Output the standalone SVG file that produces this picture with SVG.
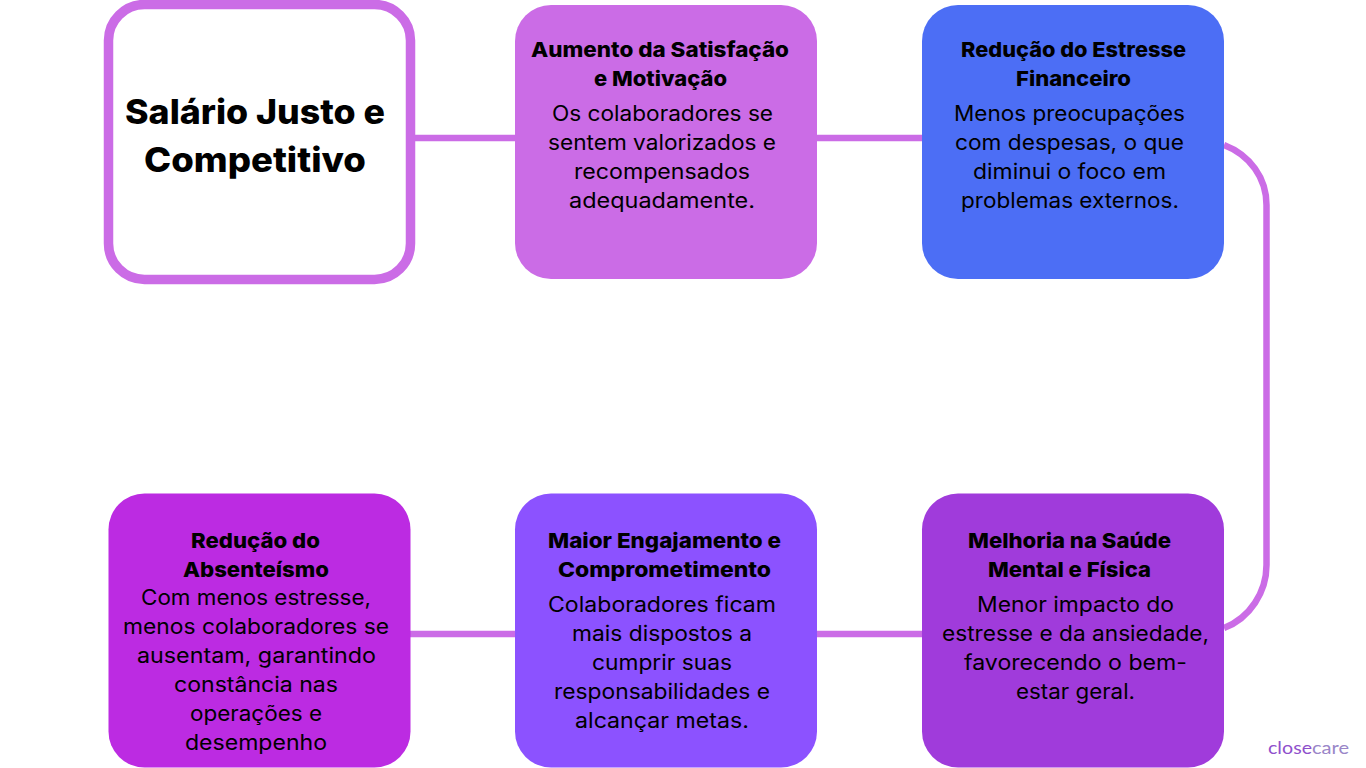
<svg xmlns="http://www.w3.org/2000/svg" width="1366" height="768" viewBox="0 0 1366 768">
<style>
text{font-family:"Inter","Noto Sans","Liberation Sans",sans-serif;fill:#000}
.h{font-size:20.5px;font-weight:800}
.b{font-size:21px;font-weight:400}
.t{font-size:34px;font-weight:800}
.c{fill:none;stroke:#cb6ce6;stroke-width:6.5}
</style>
<rect width="1366" height="768" fill="#fff"/>
<g id="connectors">
<path class="c" d="M410 138H520"/>
<path class="c" d="M815 138H925"/>
<path class="c" d="M1224 145C1250 155 1266.500 178 1266.500 205V565C1266.500 592 1250 618 1224 628"/>
<path class="c" d="M815 634H925"/>
<path class="c" d="M408 634H520"/>
</g>
<g id="node-salario">
<rect x="108.500" y="4.500" width="302" height="275" rx="36" fill="#fff" stroke="#cb6ce6" stroke-width="9.500"/>
<text class="t" x="125" y="124" textLength="260" lengthAdjust="spacingAndGlyphs">Salário Justo e</text>
<text class="t" x="144" y="172" textLength="222" lengthAdjust="spacingAndGlyphs">Competitivo</text>
</g>
<g id="node-satisfacao">
<rect x="515" y="5" width="302" height="274" rx="36" fill="#cb6ce6"/>
<text class="h" x="531" y="57" textLength="258" lengthAdjust="spacingAndGlyphs">Aumento da Satisfação</text>
<text class="h" x="594" y="86" textLength="133" lengthAdjust="spacingAndGlyphs">e Motivação</text>
<text class="b" x="552" y="121" textLength="221" lengthAdjust="spacingAndGlyphs">Os colaboradores se</text>
<text class="b" x="548" y="150" textLength="228" lengthAdjust="spacingAndGlyphs">sentem valorizados e</text>
<text class="b" x="574" y="179" textLength="176" lengthAdjust="spacingAndGlyphs">recompensados</text>
<text class="b" x="569" y="208" textLength="186" lengthAdjust="spacingAndGlyphs">adequadamente.</text>
</g>
<g id="node-estresse">
<rect x="922" y="5" width="302" height="274" rx="36" fill="#4c6ef5"/>
<text class="h" x="961" y="57" textLength="225" lengthAdjust="spacingAndGlyphs">Redução do Estresse</text>
<text class="h" x="1016" y="86" textLength="115" lengthAdjust="spacingAndGlyphs">Financeiro</text>
<text class="b" x="954" y="121" textLength="231" lengthAdjust="spacingAndGlyphs">Menos preocupações</text>
<text class="b" x="955" y="150" textLength="229" lengthAdjust="spacingAndGlyphs">com despesas, o que</text>
<text class="b" x="973" y="179" textLength="193" lengthAdjust="spacingAndGlyphs">diminui o foco em</text>
<text class="b" x="961" y="208" textLength="218" lengthAdjust="spacingAndGlyphs">problemas externos.</text>
</g>
<g id="node-saude">
<rect x="922" y="493.500" width="302" height="274" rx="36" fill="#a03bdb"/>
<text class="h" x="968" y="548" textLength="203" lengthAdjust="spacingAndGlyphs">Melhoria na Saúde</text>
<text class="h" x="988" y="577" textLength="163" lengthAdjust="spacingAndGlyphs">Mental e Física</text>
<text class="b" x="977" y="612" textLength="197" lengthAdjust="spacingAndGlyphs">Menor impacto do</text>
<text class="b" x="942" y="641" textLength="267" lengthAdjust="spacingAndGlyphs">estresse e da ansiedade,</text>
<text class="b" x="964" y="670" textLength="223" lengthAdjust="spacingAndGlyphs">favorecendo o bem-</text>
<text class="b" x="1016" y="699" textLength="119" lengthAdjust="spacingAndGlyphs">estar geral.</text>
</g>
<g id="node-engajamento">
<rect x="515" y="493.500" width="302" height="274" rx="36" fill="#8c52ff"/>
<text class="h" x="548" y="548" textLength="233" lengthAdjust="spacingAndGlyphs">Maior Engajamento e</text>
<text class="h" x="558" y="577" textLength="213" lengthAdjust="spacingAndGlyphs">Comprometimento</text>
<text class="b" x="548" y="612" textLength="228" lengthAdjust="spacingAndGlyphs">Colaboradores ficam</text>
<text class="b" x="572" y="641" textLength="180" lengthAdjust="spacingAndGlyphs">mais dispostos a</text>
<text class="b" x="592" y="670" textLength="140" lengthAdjust="spacingAndGlyphs">cumprir suas</text>
<text class="b" x="554" y="699" textLength="216" lengthAdjust="spacingAndGlyphs">responsabilidades e</text>
<text class="b" x="575" y="728" textLength="174" lengthAdjust="spacingAndGlyphs">alcançar metas.</text>
</g>
<g id="node-absenteismo">
<rect x="108.500" y="493.500" width="302" height="274" rx="36" fill="#bc2be2"/>
<text class="h" x="191" y="548" textLength="129" lengthAdjust="spacingAndGlyphs">Redução do</text>
<text class="h" x="183" y="577" textLength="146" lengthAdjust="spacingAndGlyphs">Absenteísmo</text>
<text class="b" x="141" y="605" textLength="230" lengthAdjust="spacingAndGlyphs">Com menos estresse,</text>
<text class="b" x="123" y="634" textLength="266" lengthAdjust="spacingAndGlyphs">menos colaboradores se</text>
<text class="b" x="137" y="663" textLength="239" lengthAdjust="spacingAndGlyphs">ausentam, garantindo</text>
<text class="b" x="174" y="692" textLength="164" lengthAdjust="spacingAndGlyphs">constância nas</text>
<text class="b" x="190" y="721" textLength="132" lengthAdjust="spacingAndGlyphs">operações e</text>
<text class="b" x="185" y="750" textLength="142" lengthAdjust="spacingAndGlyphs">desempenho</text>
</g>
<g id="logo">
<text x="1268" y="754" font-size="17.500" font-weight="400" style="font-family:Lato,'Noto Sans',sans-serif;fill:#8f50cc" textLength="44" lengthAdjust="spacingAndGlyphs">close</text>
<text x="1312" y="754" font-size="17.500" font-weight="400" style="font-family:Lato,'Noto Sans',sans-serif;fill:#9a86c8" textLength="37" lengthAdjust="spacingAndGlyphs">care</text>
</g>
</svg>
